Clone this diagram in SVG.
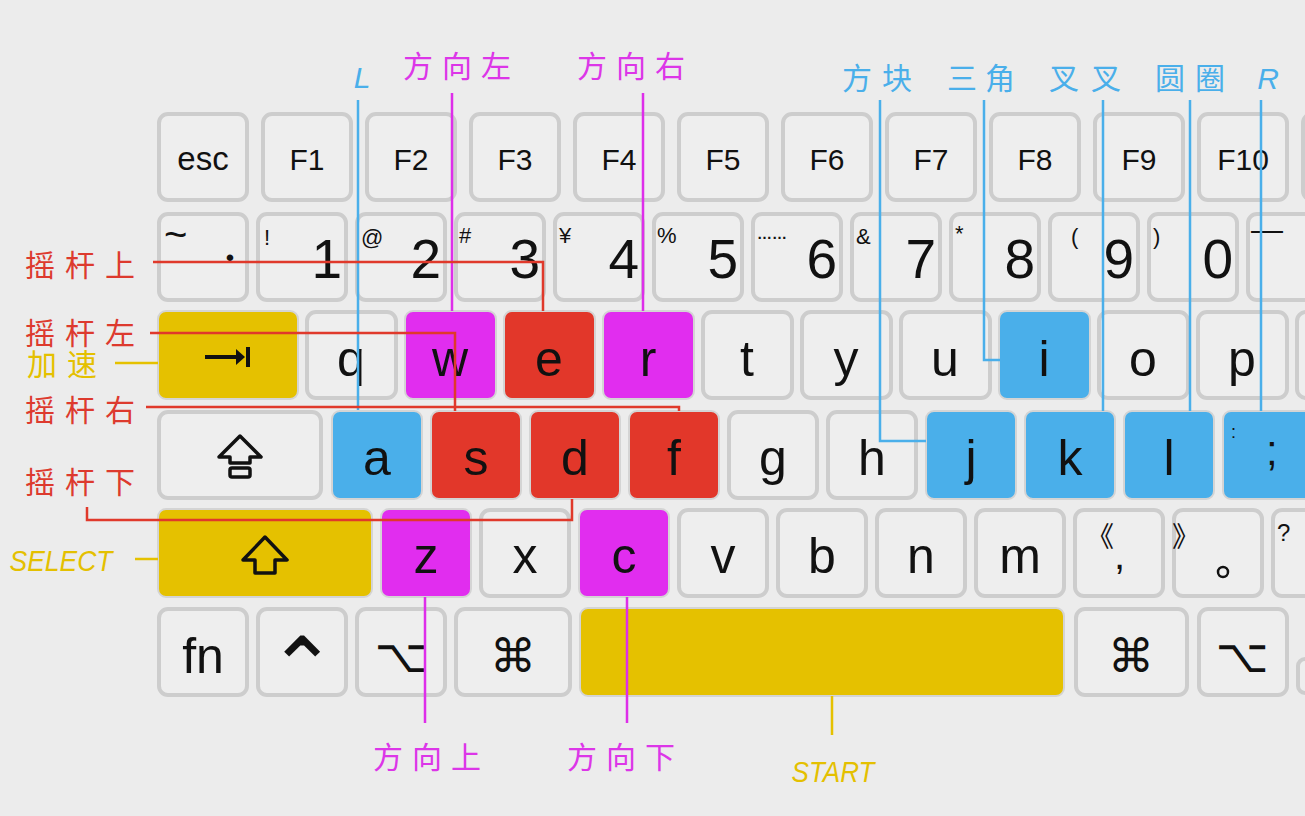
<svg xmlns="http://www.w3.org/2000/svg" width="1305" height="816" viewBox="0 0 1305 816">
<style>
.k{fill:#EEEEEE;stroke:#CDCDCD;stroke-width:4}
.ky,.kr,.km,.kb{stroke:#D4D4D4;stroke-width:2}
.ky{fill:#E5C100}.kr{fill:#E2372A}.km{fill:#E12DEF}.kb{fill:#4AAFEA}
text{font-family:"Liberation Sans",Arial,sans-serif;fill:#111}
.f{font-size:30px;text-anchor:middle}
.l{font-size:50px;text-anchor:middle}
.d{font-size:55px;text-anchor:end}
.s{font-size:22px}
.sym{font-family:"DejaVu Sans",sans-serif;font-size:50px;text-anchor:middle}
.cjk{font-family:"Noto Sans CJK SC",sans-serif;text-anchor:middle}
.cn{font-family:"Noto Sans CJK SC",sans-serif;font-size:30px;text-anchor:middle}
.cb{fill:#4AAFEA}.cm{fill:#DC36E8}.cr{fill:#DD3A2E}.cy{fill:#E4C000}
.lat{font-family:"Liberation Sans",sans-serif;font-style:italic;font-size:30px;text-anchor:middle}
.c{fill:none;stroke-width:2.5}
.lb{stroke:#4AAFEA}.lm{stroke:#DE2EEA}.lr{stroke:#E0392B}.lyy{stroke:#E5C100}
.ic{fill:none;stroke:#111;stroke-width:3.5;stroke-linejoin:round}
</style>
<rect width="1305" height="816" fill="#ECECEC"/>

<g id="row-function">
<g id="key-esc"><rect class="k" x="159" y="114" width="88" height="86" rx="9"/><text class="f" x="203" y="170" style="font-size:33px">esc</text></g>
<g id="key-F1"><rect class="k" x="263" y="114" width="88" height="86" rx="9"/><text class="f" x="307" y="170">F1</text></g>
<g id="key-F2"><rect class="k" x="367" y="114" width="88" height="86" rx="9"/><text class="f" x="411" y="170">F2</text></g>
<g id="key-F3"><rect class="k" x="471" y="114" width="88" height="86" rx="9"/><text class="f" x="515" y="170">F3</text></g>
<g id="key-F4"><rect class="k" x="575" y="114" width="88" height="86" rx="9"/><text class="f" x="619" y="170">F4</text></g>
<g id="key-F5"><rect class="k" x="679" y="114" width="88" height="86" rx="9"/><text class="f" x="723" y="170">F5</text></g>
<g id="key-F6"><rect class="k" x="783" y="114" width="88" height="86" rx="9"/><text class="f" x="827" y="170">F6</text></g>
<g id="key-F7"><rect class="k" x="887" y="114" width="88" height="86" rx="9"/><text class="f" x="931" y="170">F7</text></g>
<g id="key-F8"><rect class="k" x="991" y="114" width="88" height="86" rx="9"/><text class="f" x="1035" y="170">F8</text></g>
<g id="key-F9"><rect class="k" x="1095" y="114" width="88" height="86" rx="9"/><text class="f" x="1139" y="170">F9</text></g>
<g id="key-F10"><rect class="k" x="1199" y="114" width="88" height="86" rx="9"/><text class="f" x="1243" y="170">F10</text></g>
<g id="key-F11"><rect class="k" x="1303" y="114" width="88" height="86" rx="9"/></g>
</g>

<g id="row-number">
<g id="key-tilde"><rect class="k" x="159" y="214" width="88" height="86" rx="9"/><text x="164" y="248" style="font-size:40px">~</text><text x="230" y="266" style="font-size:24px;text-anchor:middle">•</text></g>
<g id="key-1"><rect class="k" x="258" y="214" width="88" height="86" rx="9"/><text class="s" x="264" y="245">!</text><text class="d" x="342" y="278">1</text></g>
<g id="key-2"><rect class="k" x="357" y="214" width="88" height="86" rx="9"/><text class="s" x="361" y="245">@</text><text class="d" x="441" y="278">2</text></g>
<g id="key-3"><rect class="k" x="456" y="214" width="88" height="86" rx="9"/><text class="s" x="459" y="243">#</text><text class="d" x="540" y="278">3</text></g>
<g id="key-4"><rect class="k" x="555" y="214" width="88" height="86" rx="9"/><text class="s" x="559" y="243">¥</text><text class="d" x="639" y="278">4</text></g>
<g id="key-5"><rect class="k" x="654" y="214" width="88" height="86" rx="9"/><text class="s" x="657" y="243">%</text><text class="d" x="738" y="278">5</text></g>
<g id="key-6"><rect class="k" x="753" y="214" width="88" height="86" rx="9"/><text x="757" y="239" style="font-size:15px;font-weight:bold">……</text><text class="d" x="837" y="278">6</text></g>
<g id="key-7"><rect class="k" x="852" y="214" width="88" height="86" rx="9"/><text class="s" x="856" y="244">&amp;</text><text class="d" x="936" y="278">7</text></g>
<g id="key-8"><rect class="k" x="951" y="214" width="88" height="86" rx="9"/><text class="s" x="955" y="241">*</text><text class="d" x="1035" y="278">8</text></g>
<g id="key-9"><rect class="k" x="1050" y="214" width="88" height="86" rx="9"/><text class="s" x="1071" y="244">(</text><text class="d" x="1134" y="278">9</text></g>
<g id="key-0"><rect class="k" x="1149" y="214" width="88" height="86" rx="9"/><text class="s" x="1153" y="244">)</text><text class="d" x="1233" y="278">0</text></g>
<g id="key-dash"><rect class="k" x="1248" y="214" width="88" height="86" rx="9"/><text x="1251" y="240" style="font-size:32px">—</text></g>
</g>

<g id="row-qwerty">
<g id="key-tab"><rect class="ky" x="158" y="311" width="140" height="88" rx="8"/><path d="M205 357H238" stroke="#111" stroke-width="4"/><path d="M236 349L245 357L236 365Z" fill="#111"/><rect x="246" y="347" width="4" height="20" fill="#111"/></g>
<g id="key-q"><rect class="k" x="307" y="312" width="89" height="86" rx="9"/><text class="l" x="351" y="376">q</text></g>
<g id="key-w"><rect class="km" x="405" y="311" width="91" height="88" rx="8"/><text class="l" x="450" y="376">w</text></g>
<g id="key-e"><rect class="kr" x="504" y="311" width="91" height="88" rx="8"/><text class="l" x="549" y="376">e</text></g>
<g id="key-r"><rect class="km" x="603" y="311" width="91" height="88" rx="8"/><text class="l" x="648" y="376">r</text></g>
<g id="key-t"><rect class="k" x="703" y="312" width="89" height="86" rx="9"/><text class="l" x="747" y="376">t</text></g>
<g id="key-y"><rect class="k" x="802" y="312" width="89" height="86" rx="9"/><text class="l" x="846" y="376">y</text></g>
<g id="key-u"><rect class="k" x="901" y="312" width="89" height="86" rx="9"/><text class="l" x="945" y="376">u</text></g>
<g id="key-i"><rect class="kb" x="999" y="311" width="91" height="88" rx="8"/><text class="l" x="1044" y="376">i</text></g>
<g id="key-o"><rect class="k" x="1099" y="312" width="89" height="86" rx="9"/><text class="l" x="1143" y="376">o</text></g>
<g id="key-p"><rect class="k" x="1198" y="312" width="89" height="86" rx="9"/><text class="l" x="1242" y="376">p</text></g>
<g id="key-bracket"><rect class="k" x="1297" y="312" width="89" height="86" rx="9"/></g>
</g>

<g id="row-asdf">
<g id="key-caps"><rect class="k" x="159" y="412" width="162" height="86" rx="9"/><path class="ic" d="M240 436L261 457H250V463H230V457H219Z"/><rect class="ic" x="230" y="468" width="20" height="9" rx="2"/></g>
<g id="key-a"><rect class="kb" x="332" y="411" width="90" height="88" rx="8"/><text class="l" x="377" y="475">a</text></g>
<g id="key-s"><rect class="kr" x="431" y="411" width="90" height="88" rx="8"/><text class="l" x="476" y="475">s</text></g>
<g id="key-d"><rect class="kr" x="530" y="411" width="90" height="88" rx="8"/><text class="l" x="575" y="475">d</text></g>
<g id="key-f"><rect class="kr" x="629" y="411" width="90" height="88" rx="8"/><text class="l" x="674" y="475">f</text></g>
<g id="key-g"><rect class="k" x="729" y="412" width="88" height="86" rx="9"/><text class="l" x="773" y="475">g</text></g>
<g id="key-h"><rect class="k" x="828" y="412" width="88" height="86" rx="9"/><text class="l" x="872" y="475">h</text></g>
<g id="key-j"><rect class="kb" x="926" y="411" width="90" height="88" rx="8"/><text class="l" x="971" y="475">j</text></g>
<g id="key-k"><rect class="kb" x="1025" y="411" width="90" height="88" rx="8"/><text class="l" x="1070" y="475">k</text></g>
<g id="key-l"><rect class="kb" x="1124" y="411" width="90" height="88" rx="8"/><text class="l" x="1169" y="475">l</text></g>
<g id="key-semicolon"><rect class="kb" x="1223" y="411" width="90" height="88" rx="8"/><text x="1231" y="438" style="font-size:18px">:</text><text x="1266" y="465" style="font-size:42px">;</text></g>
</g>

<g id="row-zxcv">
<g id="key-shift"><rect class="ky" x="158" y="509" width="214" height="88" rx="8"/><path class="ic" d="M265 537L287 560H275V573H255V560H243Z"/></g>
<g id="key-z"><rect class="km" x="381" y="509" width="90" height="88" rx="8"/><text class="l" x="426" y="573">z</text></g>
<g id="key-x"><rect class="k" x="481" y="510" width="88" height="86" rx="9"/><text class="l" x="525" y="573">x</text></g>
<g id="key-c"><rect class="km" x="579" y="509" width="90" height="88" rx="8"/><text class="l" x="624" y="573">c</text></g>
<g id="key-v"><rect class="k" x="679" y="510" width="88" height="86" rx="9"/><text class="l" x="723" y="573">v</text></g>
<g id="key-b"><rect class="k" x="778" y="510" width="88" height="86" rx="9"/><text class="l" x="822" y="573">b</text></g>
<g id="key-n"><rect class="k" x="877" y="510" width="88" height="86" rx="9"/><text class="l" x="921" y="573">n</text></g>
<g id="key-m"><rect class="k" x="976" y="510" width="88" height="86" rx="9"/><text class="l" x="1020" y="573">m</text></g>
<g id="key-comma"><rect class="k" x="1075" y="510" width="88" height="86" rx="9"/><text class="cjk" x="1100" y="547" style="font-size:28px">《</text><text x="1114" y="569" style="font-size:40px">,</text></g>
<g id="key-period"><rect class="k" x="1174" y="510" width="88" height="86" rx="9"/><text class="cjk" x="1186" y="547" style="font-size:28px">》</text><circle cx="1223" cy="572" r="5" fill="none" stroke="#111" stroke-width="2.5"/></g>
<g id="key-question"><rect class="k" x="1273" y="510" width="88" height="86" rx="9"/><text x="1277" y="541" style="font-size:24px">?</text></g>
</g>

<g id="row-bottom">
<g id="key-fn"><rect class="k" x="159" y="609" width="88" height="86" rx="9"/><text class="l" x="203" y="673">fn</text></g>
<g id="key-ctrl"><rect class="k" x="258" y="609" width="88" height="86" rx="9"/><text class="sym" x="302" y="697" style="font-size:84px;font-weight:200">⌃</text></g>
<g id="key-opt-l"><rect class="k" x="357" y="609" width="88" height="86" rx="9"/><text class="sym" x="401" y="672" style="font-size:46px">⌥</text></g>
<g id="key-cmd-l"><rect class="k" x="456" y="609" width="114" height="86" rx="9"/><text class="sym" x="513" y="672" style="font-size:46px">⌘</text></g>
<g id="key-space"><rect class="ky" x="580" y="608" width="484" height="88" rx="8"/></g>
<g id="key-cmd-r"><rect class="k" x="1076" y="609" width="111" height="86" rx="9"/><text class="sym" x="1131" y="672" style="font-size:46px">⌘</text></g>
<g id="key-opt-r"><rect class="k" x="1199" y="609" width="88" height="86" rx="9"/><text class="sym" x="1242" y="672" style="font-size:46px">⌥</text></g>
<g id="key-arrow"><rect class="k" x="1298" y="659" width="60" height="34" rx="7"/></g>
</g>

<g id="connectors">
<path class="c lb" d="M358 100V410"/>
<path class="c lb" d="M880 100V441H926"/>
<path class="c lb" d="M984 100V360H1000"/>
<path class="c lb" d="M1103 100V411"/>
<path class="c lb" d="M1190 100V411"/>
<path class="c lb" d="M1261 100V411"/>
<path class="c lm" d="M452 93V311"/>
<path class="c lm" d="M643 93V311"/>
<path class="c lm" d="M425 597V723"/>
<path class="c lm" d="M627 597V723"/>
<path class="c lr" d="M153 262H543V311"/>
<path class="c lr" d="M150 333H455V411"/>
<path class="c lr" d="M146 407H679V411"/>
<path class="c lr" d="M87 507V520H572V499"/>
<path class="c lyy" d="M115 363H158"/>
<path class="c lyy" d="M135 559H158"/>
<path class="c lyy" d="M832 696V735"/>
</g>

<g id="labels">
<g id="label-L"><text class="lat cb" x="362" y="88">L</text></g>
<g id="label-dir-left"><text class="cn cm" x="457" y="77" textLength="108" lengthAdjust="spacing">方向左</text></g>
<g id="label-dir-right"><text class="cn cm" x="631" y="77" textLength="108" lengthAdjust="spacing">方向右</text></g>
<g id="label-square"><text class="cn cb" x="877" y="89" textLength="70" lengthAdjust="spacing">方块</text></g>
<g id="label-triangle"><text class="cn cb" x="981" y="89" textLength="68" lengthAdjust="spacing">三角</text></g>
<g id="label-cross"><text class="cn cb" x="1085" y="89" textLength="72" lengthAdjust="spacing">叉叉</text></g>
<g id="label-circle"><text class="cn cb" x="1190" y="89" textLength="70" lengthAdjust="spacing">圆圈</text></g>
<g id="label-R"><text class="lat cb" x="1268" y="89">R</text></g>
<g id="label-stick-up"><text class="cn cr" x="80" y="276" textLength="110" lengthAdjust="spacing">摇杆上</text></g>
<g id="label-stick-left"><text class="cn cr" x="80" y="344" textLength="110" lengthAdjust="spacing">摇杆左</text></g>
<g id="label-accel"><text class="cn cy" x="62" y="375" textLength="70" lengthAdjust="spacing">加速</text></g>
<g id="label-stick-right"><text class="cn cr" x="80" y="421" textLength="110" lengthAdjust="spacing">摇杆右</text></g>
<g id="label-stick-down"><text class="cn cr" x="80" y="493" textLength="110" lengthAdjust="spacing">摇杆下</text></g>
<g id="label-select"><text class="lat cy" x="61" y="571" textLength="103" lengthAdjust="spacingAndGlyphs">SELECT</text></g>
<g id="label-dir-up"><text class="cn cm" x="427" y="768" textLength="108" lengthAdjust="spacing">方向上</text></g>
<g id="label-dir-down"><text class="cn cm" x="621" y="768" textLength="108" lengthAdjust="spacing">方向下</text></g>
<g id="label-start"><text class="lat cy" x="833" y="782" textLength="83" lengthAdjust="spacingAndGlyphs">START</text></g>
</g>
</svg>
